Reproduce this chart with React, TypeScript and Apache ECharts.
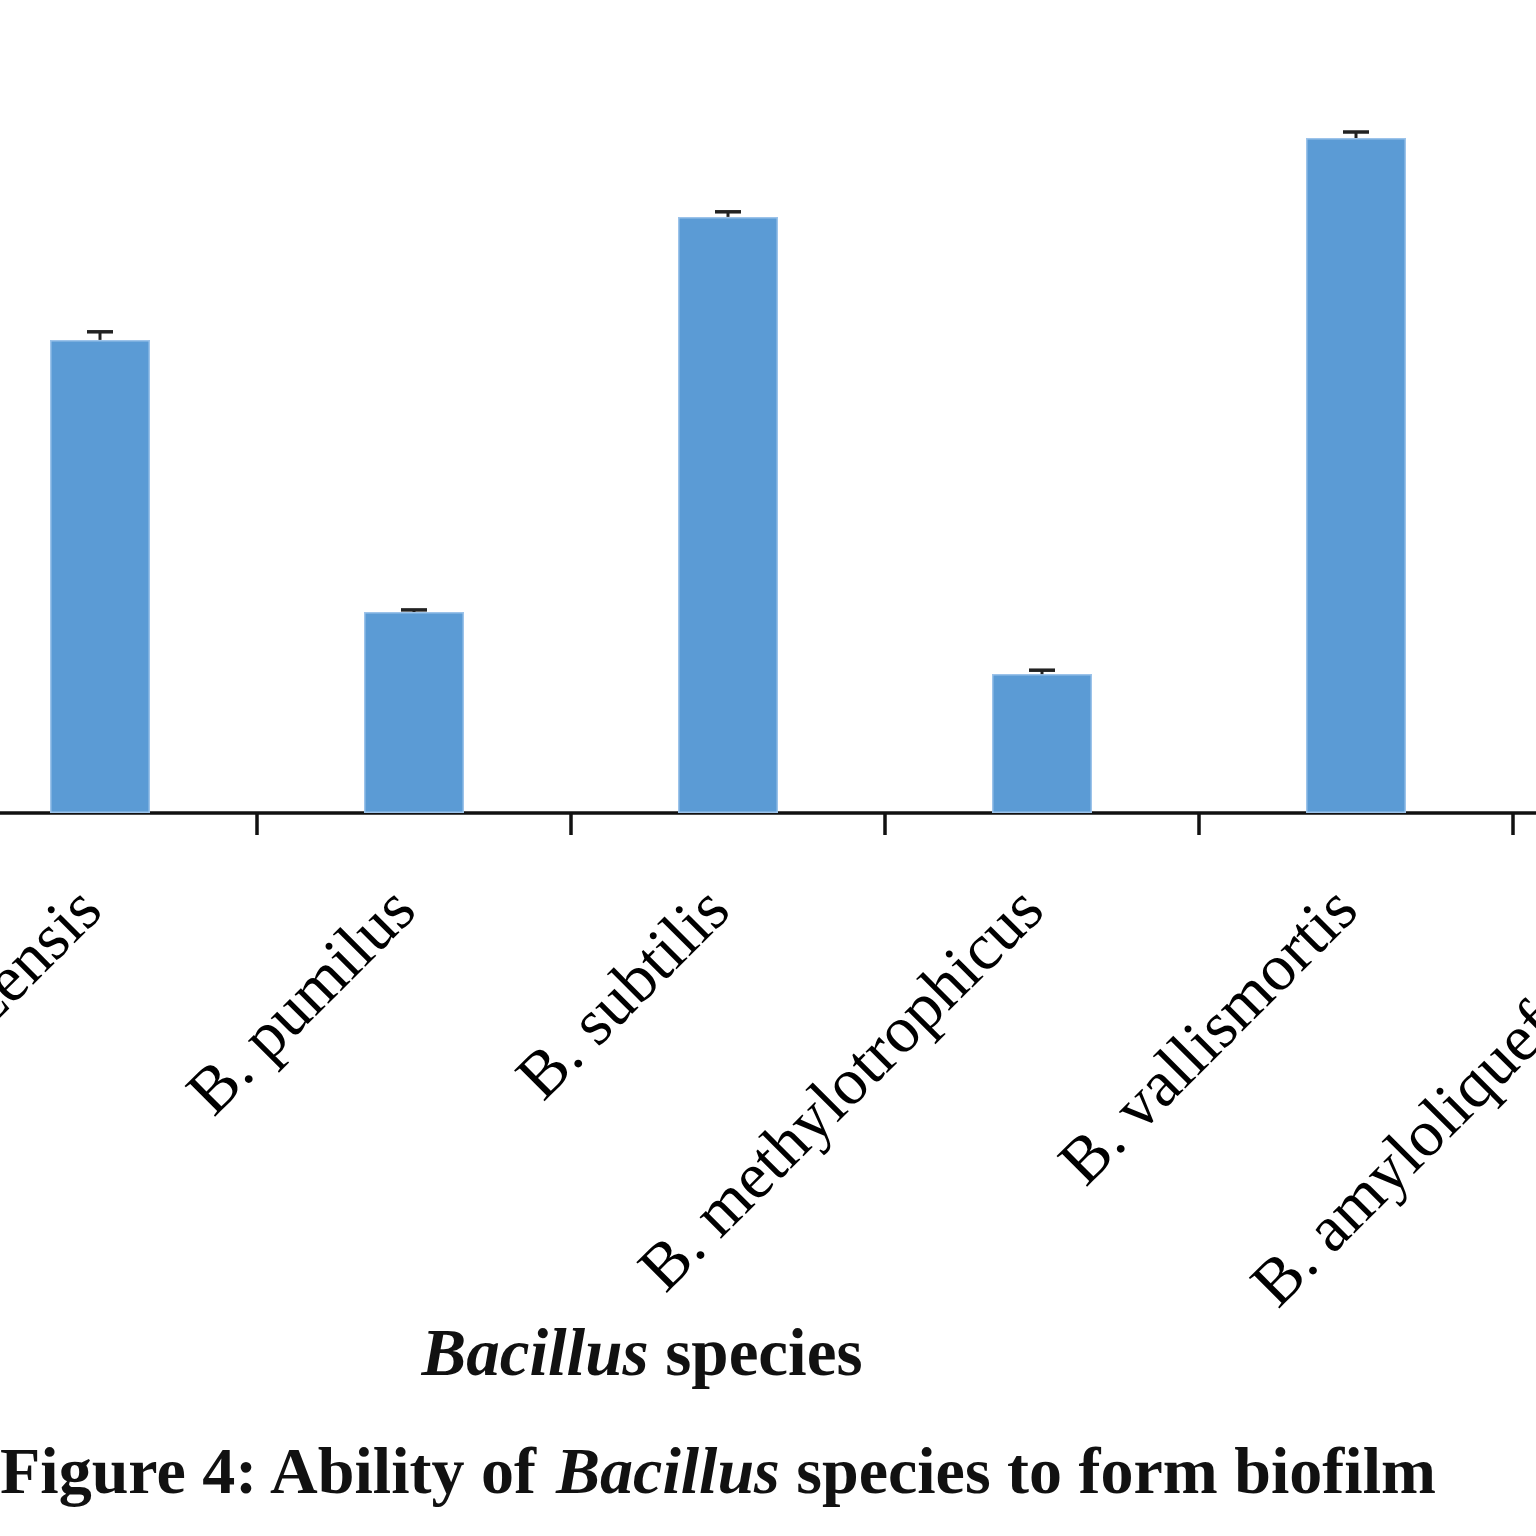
import { useEffect, useRef } from "react";
import * as echarts from "echarts";

// Biofilm formation (OD) per Bacillus isolate, mean and standard deviation
const species = [
  "B. velezensis",
  "B. pumilus",
  "B. subtilis",
  "B. methylotrophicus",
  "B. vallismortis",
  "B. amyloliquefaciens",
];
const biofilmMean: (number | null)[] = [1.577, 0.67, 1.987, 0.463, 2.25, null];
const biofilmSd: (number | null)[] = [0.027, 0.007, 0.017, 0.013, 0.02, null];

const axisTitleItalic = "Bacillus";
const axisTitleRest = " species";
const captionLead = "Figure 4: Ability of ";
const captionItalic = "Bacillus";
const captionTail = " species to form biofilm";

const SERIF = "'Liberation Serif', 'Times New Roman', serif";

// The plot area is wider than the visible frame; this shifts it left.
const SHIFT = 400;

export default function App() {
  const ref = useRef<HTMLDivElement>(null);

  useEffect(() => {
    if (!ref.current) return;
    const chart = echarts.init(ref.current, undefined, { renderer: "svg" });

    const errData = biofilmMean
      .map((m, i) => (m == null || biofilmSd[i] == null ? null : [i, m, biofilmSd[i]]))
      .filter((d) => d !== null) as number[][];

    chart.setOption({
      animation: false,
      backgroundColor: "#ffffff",
      grid: { left: 343, right: 173, top: 63, bottom: 723 },
      xAxis: {
        type: "category",
        data: species,
        axisLine: { lineStyle: { color: "#111", width: 3.5 } },
        axisTick: { show: true, length: 22, lineStyle: { color: "#111", width: 3.5 } },
        axisLabel: {
          interval: 0,
          rotate: 45,
          margin: 73,
          padding: [0, 16, 0, 0],
          fontSize: 66,
          fontFamily: SERIF,
          color: "#000",
        },
      },
      yAxis: { type: "value", min: 0, max: 2.5, show: false },
      series: [
        {
          type: "bar",
          data: biofilmMean,
          barWidth: 100,
          itemStyle: { color: "#5B9BD5", borderColor: "#9cc3ea", borderWidth: 1.5 },
        },
        {
          type: "custom",
          data: errData,
          z: 5,
          renderItem: (_params: any, api: any) => {
            const i = api.value(0);
            const m = api.value(1);
            const s = api.value(2);
            const top = api.coord([i, m + s]);
            const base = api.coord([i, m]);
            const half = 13;
            return {
              type: "group",
              children: [
                {
                  type: "line",
                  shape: { x1: top[0], y1: top[1], x2: base[0], y2: base[1] },
                  style: { stroke: "#222", lineWidth: 3 },
                },
                {
                  type: "line",
                  shape: { x1: top[0] - half, y1: top[1], x2: top[0] + half, y2: top[1] },
                  style: { stroke: "#222", lineWidth: 3.5 },
                },
              ],
            };
          },
        },
      ],
      graphic: [
        {
          type: "text",
          x: 642 + SHIFT,
          y: 1352,
          style: {
            text: `{i|${axisTitleItalic}}{b|${axisTitleRest}}`,
            align: "center",
            verticalAlign: "middle",
            rich: {
              i: { fontFamily: SERIF, fontSize: 67, fontWeight: "bold", fontStyle: "italic", fill: "#111" },
              b: { fontFamily: SERIF, fontSize: 67, fontWeight: "bold", fill: "#111" },
            },
          },
        },
        {
          type: "text",
          x: 0 + SHIFT,
          y: 1470,
          style: {
            text: `{b|${captionLead}}{i|${captionItalic}}{b|${captionTail}}`,
            align: "left",
            verticalAlign: "middle",
            rich: {
              i: { fontFamily: SERIF, fontSize: 66, fontWeight: "bold", fontStyle: "italic", fill: "#111" },
              b: { fontFamily: SERIF, fontSize: 66, fontWeight: "bold", fill: "#111" },
            },
          },
        },
      ],
    });

    return () => chart.dispose();
  }, []);

  return (
    <div
      style={{
        position: "fixed",
        left: 0,
        top: 0,
        width: 1536,
        height: 1536,
        overflow: "hidden",
        background: "#fff",
      }}
    >
      <div
        ref={ref}
        style={{ position: "absolute", left: -SHIFT, top: 0, width: 2400, height: 1536 }}
      />
    </div>
  );
}
